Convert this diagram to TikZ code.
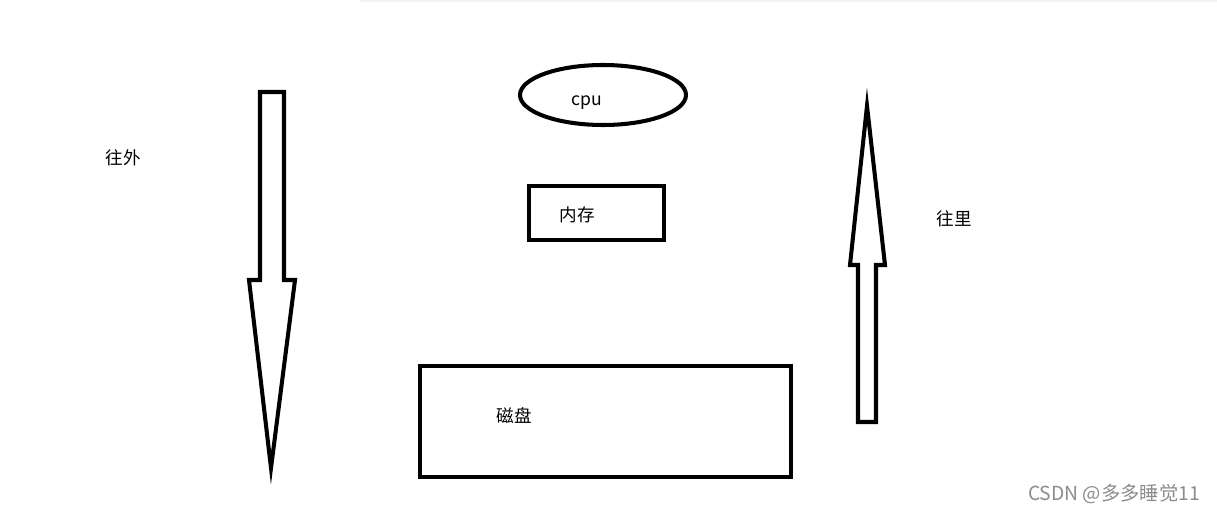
\documentclass[tikz,border=0pt]{standalone}
\usepackage{fontspec}
\newfontfamily\cjk{Noto Sans CJK SC}
\begin{document}
\begin{tikzpicture}[x=0.02cm,y=-0.02cm,
  shp/.style={draw=black,line width=2.3pt},
  lbl/.style={font=\cjk\fontsize{10}{12}\selectfont,inner sep=0pt}]
\useasboundingbox[fill=white] (0,0) rectangle (1217,513);
\draw[black!5,line width=1pt] (360,1) -- (1217,1);
\draw[shp] (603,95) ellipse [x radius=83, y radius=30];
\node[lbl] (cpu) at (587,103) {cpu};
\draw[shp] (529,186) rectangle (664,240);
\node[lbl] (mem) at (577,215) {内存};
\draw[shp] (420,366) rectangle (791,477);
\node[lbl] (disk) at (514,416) {磁盘};
\draw[shp,line join=miter] (260,92) -- (284,92) -- (284,280) -- (295,280) -- (271,468) -- (249,280) -- (260,280) -- cycle;
\draw[shp,line join=miter] (858,422) -- (876,422) -- (876,265) -- (885,265) -- (867,106) -- (850,265) -- (858,265) -- cycle;
\node[lbl] (out) at (123,158) {往外};
\node[lbl] (in) at (954,219) {往里};
\node[lbl,text=black!45,font=\cjk\fontsize{11}{13}\selectfont] (wm) at (1114,494) {CSDN @多多睡觉11};
\end{tikzpicture}
\end{document}
